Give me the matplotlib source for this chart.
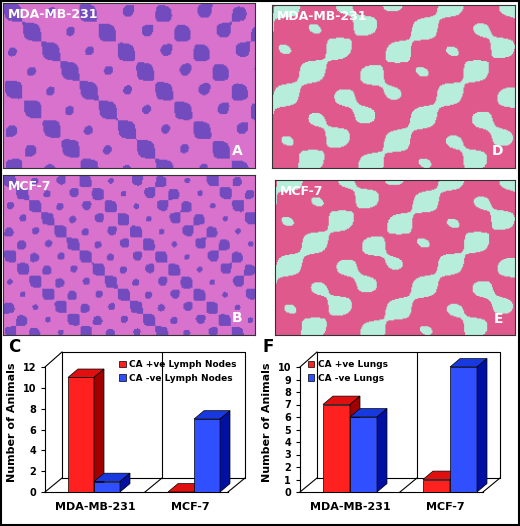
import numpy as np
import matplotlib.pyplot as plt
from matplotlib.patches import Polygon, Rectangle

# data
groups = ["MDA-MB-231", "MCF-7"]
lymph_pos = [11, 0]
lymph_neg = [1, 7]
lung_pos = [7, 1]
lung_neg = [6, 10]

RED, RED_SIDE, RED_TOP = "#ff2020", "#a00000", "#e01010"
BLUE, BLUE_SIDE, BLUE_TOP = "#3050ff", "#0010a0", "#1838e0"

W, H = 520, 526
fig = plt.figure(figsize=(5.2, 5.26), dpi=100)
fig.patch.set_facecolor("white")


def px_axes(x0, y0, x1, y1):
    return fig.add_axes([x0 / W, 1 - y1 / H, (x1 - x0) / W, (y1 - y0) / H])


# histology panels (decorative texture only)
yy, xx = np.mgrid[0:160, 0:250]
panels = [
    (3, 3, 255, 168, "MDA-MB-231", "A", "tissue"),
    (3, 175, 255, 335, "MCF-7", "B", "dense"),
    (272, 5, 515, 168, "MDA-MB-231", "D", "lung"),
    (275, 180, 515, 335, "MCF-7", "E", "lung"),
]
for x0, y0, x1, y1, name, letter, kind in panels:
    ax = px_axes(x0, y0, x1, y1)
    if kind == "lung":
        t = np.sin(xx / 9.0) * np.cos(yy / 7.0) + 0.5 * np.sin((xx + yy) / 13.0)
        img = np.where(t[..., None] > 0.35, [0.72, 0.93, 0.86], [0.88, 0.35, 0.55])
    else:
        f = 4.0 if kind == "dense" else 6.0
        t = np.sin(xx / f) * np.sin(yy / f) + 0.4 * np.cos((xx - yy) / 11.0)
        img = np.where(t[..., None] > 0.4, [0.45, 0.30, 0.75], [0.85, 0.45, 0.80])
    ax.imshow(img, aspect="auto", interpolation="bilinear")
    ax.set_xticks([]); ax.set_yticks([])
    for s in ax.spines.values():
        s.set_color("#333333")
    ax.text(0.02, 0.97, name, transform=ax.transAxes, color="white", fontsize=9,
            fontweight="bold", va="top", ha="left")
    ax.text(0.95, 0.06, letter, transform=ax.transAxes, color="white", fontsize=10,
            fontweight="bold", va="bottom", ha="right")


def bar3d(ax, x, w, h, color, side, top, dx, dy):
    ax.add_patch(Rectangle((x, 0), w, h, facecolor=color, edgecolor="black", lw=0.5, zorder=3))
    ax.add_patch(Polygon([(x, h), (x + dx, h + dy), (x + w + dx, h + dy), (x + w, h)],
                         facecolor=top, edgecolor="black", lw=0.5, zorder=3))
    ax.add_patch(Polygon([(x + w, 0), (x + w + dx, dy), (x + w + dx, h + dy), (x + w, h)],
                         facecolor=side, edgecolor="black", lw=0.5, zorder=3))


def chart(x0, y0, x1, y1, ymax, ticks, pos, neg, labels, letter, legend_loc, bw):
    ax = px_axes(x0, y0, x1, y1)
    top_lim = ymax * 1.12
    ax.set_xlim(0, 2)
    ax.set_ylim(0, top_lim)
    dx, dy = 0.17, top_lim * 0.1
    wall_top = top_lim
    # back wall and floor
    ax.plot([dx, dx, 2, 2], [dy, wall_top, wall_top, dy], color="black", lw=0.8, clip_on=False)
    ax.plot([0, dx], [ymax, wall_top], color="black", lw=0.8, clip_on=False)
    ax.plot([1 + dx, 1 + dx], [dy, wall_top], color="black", lw=0.8)
    for fx in [0, 1, 2 - dx]:
        ax.plot([fx, fx + dx], [0, dy], color="black", lw=0.8, clip_on=False)
    ax.plot([dx, 2], [dy, dy], color="black", lw=0.8)
    for i in range(2):
        xs = i + 0.23
        bar3d(ax, xs, bw, pos[i], RED, RED_SIDE, RED_TOP, 0.1, dy * 0.6)
        bar3d(ax, xs + bw, bw, neg[i], BLUE, BLUE_SIDE, BLUE_TOP, 0.1, dy * 0.6)
    for s in ["top", "right"]:
        ax.spines[s].set_visible(False)
    ax.spines["bottom"].set_bounds(0, 2 - dx)
    ax.spines["left"].set_bounds(0, ymax)
    ax.set_yticks(ticks)
    ax.tick_params(axis="y", labelsize=7, length=3, width=0.8)
    for lab in ax.get_yticklabels():
        lab.set_fontweight("bold")
    ax.set_xticks([0.5, 1.45])
    ax.set_xticklabels(groups, fontsize=8, fontweight="bold")
    ax.tick_params(axis="x", length=0, pad=7)
    ax.set_ylabel("Number of Animals", fontsize=8, fontweight="bold")
    h1 = Rectangle((0, 0), 1, 1, facecolor=RED, edgecolor="black", lw=0.5)
    h2 = Rectangle((0, 0), 1, 1, facecolor=BLUE, edgecolor="black", lw=0.5)
    ax.legend([h1, h2], labels, loc=legend_loc, frameon=False,
              handlelength=0.7, handleheight=0.7, handletextpad=0.4,
              prop={"size": 6.5, "weight": "bold"})
    fig.text((x0 - 37) / W, 1 - (y0 - 14) / H, letter, fontsize=12, fontweight="bold",
             va="top")


chart(45, 352, 245, 492, 12, [0, 2, 4, 6, 8, 10, 12], lymph_pos, lymph_neg,
      ["CA +ve Lymph Nodes", "CA -ve Lymph Nodes"], "C", "upper right", 0.26)
chart(300, 352, 500, 492, 10, list(range(11)), lung_pos, lung_neg,
      ["CA +ve Lungs", "CA -ve Lungs"], "F", "upper left", 0.27)

# outer border
fig.add_artist(Rectangle((0.002, 0.002), 0.996, 0.996, transform=fig.transFigure,
                         fill=False, edgecolor="black", lw=1.5))

fig.savefig("out.png", dpi=100)
